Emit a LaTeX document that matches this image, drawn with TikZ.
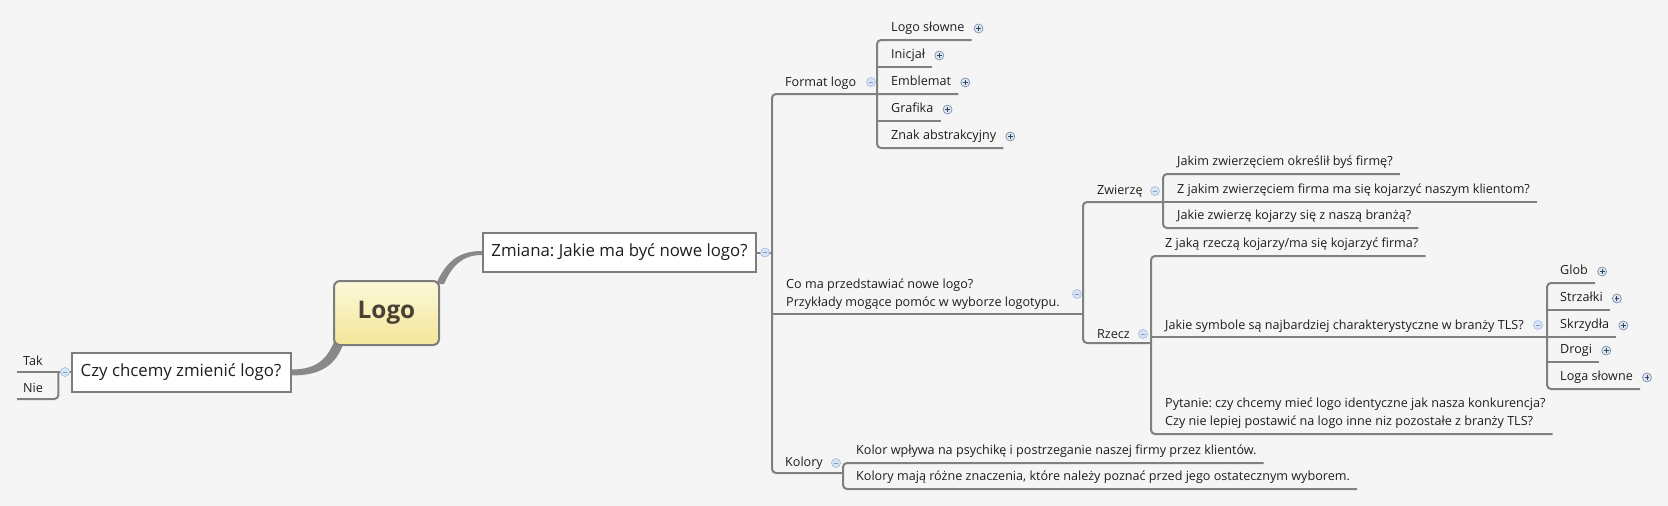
\documentclass[tikz,border=0pt]{standalone}
\usepackage{fontspec}
\setmainfont{Open Sans}
\usetikzlibrary{calc}
\definecolor{bg}{HTML}{F5F5F5}
\definecolor{ln}{HTML}{808080}
\definecolor{bx}{HTML}{7D7D7D}
\definecolor{txt}{HTML}{1E1E1E}
\definecolor{logotxt}{HTML}{4A4034}
\definecolor{ytop}{HTML}{FCF8D8}
\definecolor{ybot}{HTML}{F3E69A}
\definecolor{minfill}{HTML}{D8E4F4}
\definecolor{minline}{HTML}{A9BFE2}
\definecolor{minsign}{HTML}{7C9BCB}
\definecolor{plfill}{HTML}{DCE6F3}
\definecolor{plline}{HTML}{7E8FA8}
\definecolor{plsign}{HTML}{33445E}
\definecolor{curvec}{HTML}{898989}
\newcommand\tpfont{\fontsize{12.6}{18}\selectfont}
\newcommand\bxfont{\fontsize{16.8}{20}\selectfont}
\frenchspacing
\begin{document}
\begin{tikzpicture}[x=1pt,y=-1pt,
 conn/.style={draw=ln, line width=2pt, rounded corners=4pt},
 leaf/.style={anchor=south west, inner sep=0pt, text depth=8pt, font=\tpfont, text=txt},
 ttext/.style={anchor=base west, inner sep=0pt, font=\tpfont, text=txt},
 bigbox/.style={draw=bx, line width=2pt, fill=white, inner sep=0pt, minimum height=39pt, font=\bxfont, text=txt},
 colicon/.style={circle, inner sep=0pt, minimum size=9pt, fill=minfill, draw=minline, line width=0.7pt,
   path picture={\draw[minsign, line width=1pt] ([xshift=-2.4pt]path picture bounding box.center) -- ([xshift=2.4pt]path picture bounding box.center);}},
 expicon/.style={circle, inner sep=0pt, minimum size=9pt, fill=plfill, draw=plline, line width=0.7pt,
   path picture={\draw[plsign, line width=0.9pt] ([xshift=-2.4pt]path picture bounding box.center) -- ([xshift=2.4pt]path picture bounding box.center) ([yshift=-2.4pt]path picture bounding box.center) -- ([yshift=2.4pt]path picture bounding box.center);}},
]
\fill[bg] (0,0) rectangle (1668,506);
\useasboundingbox (0,0) rectangle (1668,506);

% central boxes
\node[bigbox, minimum width=219pt] (czy) at (181,372) {Czy chcemy zmienić logo?};
\node[bigbox, minimum width=273pt] (zmiana) at (619.5,252.5) {Zmiana: Jakie ma być nowe logo?};
\coordinate (logoBL) at (339,342);
\coordinate (logoTR) at (440,284);
% thick curves
\fill[curvec] ($(czy.east)+(0,-2.5)$) .. controls (318,369.5) and (327,358) .. ($(logoBL)+(-5,0)$) -- ($(logoBL)+(5,0)$) .. controls (336,366) and (320,375.5) .. ($(czy.east)+(0,3.5)$) -- cycle;
\fill[curvec] ($(logoTR)+(-4,0)$) .. controls (446,262) and (458,251) .. ($(zmiana.west)+(0,-1.5)$) -- ($(zmiana.west)+(0,2.5)$) .. controls (462,255) and (452,266) .. ($(logoTR)+(4,0)$) -- cycle;
\node[draw=bx, line width=2pt, rounded corners=6pt, top color=ytop, bottom color=ybot, minimum width=105pt, minimum height=64pt, inner sep=0pt, font=\fontsize{24.3}{28}\selectfont\bfseries, text=logotxt] (logo) at (386.5,313) {Logo};

% Tak / Nie
\node[leaf, text depth=6pt] (tak) at (17,372) {\hspace*{6pt}\makebox[35pt][l]{Tak}};
\node[leaf, text depth=6pt] (nie) at (17,399) {\hspace*{6pt}\makebox[35pt][l]{Nie}};
\draw[conn] (tak.south west) -- (czy.west);
\draw[conn] (nie.south west) -- (nie.south east) -- (tak.south east);
\node[colicon] (czyI) at (65,372) {};

% main vertical
\coordinate (mT) at (772,94);
\coordinate (mB) at (772,473);
\coordinate (kolB) at (843,473);
\node[ttext] (fmt) at (785,86) {Format logo};
\node[leaf] (c1) at (877,40) {\hspace*{14pt}Logo słowne\hspace*{7pt}};
\node[leaf] (c2) at (877,67) {\hspace*{14pt}Inicjał\hspace*{7pt}};
\node[leaf] (c3) at (877,94) {\hspace*{14pt}Emblemat\hspace*{7pt}};
\node[leaf] (c4) at (877,121) {\hspace*{14pt}Grafika\hspace*{7pt}};
\node[leaf] (c5) at (877,148) {\hspace*{14pt}Znak abstrakcyjny\hspace*{7pt}};
\draw[conn] (c1.south east) -- (c1.south west) -- (c5.south west) -- (c5.south east);
\draw[conn] (c2.south west) -- (c2.south east);
\draw[conn] (c4.south west) -- (c4.south east);
\draw[conn] (c3.south east) -- (c3.south west) -- (mT) -- (mB) -- (kolB);
\draw[conn] (zmiana.east) -- (zmiana.east -| mT);
\node[colicon] (zmI) at (765,252.5) {};
\node[colicon] (fmtI) at (871,82) {};
\foreach \n in {c1,c2,c3,c4,c5} \node[expicon] (\n-i) at ($(\n.south east)+(7pt,11.5pt)$) {};

% Co ma przedstawiac
\node[ttext] (coma) at (786,306) {\begin{tabular}[b]{@{}l@{}}Co ma przedstawiać nowe logo?\\Przykłady mogące pomóc w wyborze logotypu.\end{tabular}};
\coordinate (cmL) at (772,314);
\coordinate (cmB) at (1083,314);
\draw[conn] (cmL) -- (cmB);
\node[colicon] (comaI) at (1077,294) {};

% Zwierze
\node[ttext] (zw) at (1097,194) {Zwierzę};
\node[leaf] (z1) at (1163,174) {\hspace*{14pt}Jakim zwierzęciem określił byś firmę?\hspace*{7pt}};
\node[leaf] (z2) at (1163,202) {\hspace*{14pt}Z jakim zwierzęciem firma ma się kojarzyć naszym klientom?\hspace*{7pt}};
\node[leaf] (z3) at (1163,228) {\hspace*{14pt}Jakie zwierzę kojarzy się z naszą branżą?\hspace*{7pt}};
\draw[conn] (z1.south east) -- (z1.south west) -- (z3.south west) -- (z3.south east);
\draw[conn] (z2.south west) -- (z2.south east);
\node[colicon] (zwI) at (1155,191) {};

% Rzecz
\coordinate (rzL) at (1151,343);
\draw[conn] (z2.south west) -- (1083,202) -- (1083,343) -- (rzL);
\node[ttext] (rz) at (1097,338) {Rzecz};
\node[leaf] (r1) at (1151,256) {\hspace*{14pt}Z jaką rzeczą kojarzy/ma się kojarzyć firma?\hspace*{7pt}};
\node[ttext] (r2) at (1165,329) {Jakie symbole są najbardziej charakterystyczne w branży TLS?};
\node[leaf] (r3) at (1151,434) {\hspace*{14pt}\begin{tabular}[b]{@{}l@{}}Pytanie: czy chcemy mieć logo identyczne jak nasza konkurencja?\\Czy nie lepiej postawić na logo inne niz pozostałe z branży TLS?\end{tabular}\hspace*{7pt}};
\draw[conn] (r1.south east) -- (r1.south west) -- (r3.south west) -- (r3.south east);
\coordinate (r2L) at (1151,337);
\coordinate (sB) at (1547,337);
\draw[conn] (r2L) -- (sB);
\node[colicon] (rzI) at (1143,334) {};
\node[colicon] (r2I) at (1538,325) {};

% symbols
\node[leaf] (s1) at (1547,283) {\hspace*{13pt}Glob\hspace*{7pt}};
\node[leaf] (s2) at (1547,310) {\hspace*{13pt}Strzałki\hspace*{7pt}};
\node[leaf] (s3) at (1547,337) {\hspace*{13pt}Skrzydła\hspace*{7pt}};
\node[leaf] (s4) at (1547,362) {\hspace*{13pt}Drogi\hspace*{7pt}};
\node[leaf] (s5) at (1547,389) {\hspace*{13pt}Loga słowne\hspace*{7pt}};
\draw[conn] (s1.south east) -- (s1.south west) -- (s5.south west) -- (s5.south east);
\draw[conn] (s2.south west) -- (s2.south east);
\draw[conn] (s3.south west) -- (s3.south east);
\draw[conn] (s4.south west) -- (s4.south east);
\foreach \n in {s1,s2,s3,s4,s5} \node[expicon] (\n-i) at ($(\n.south east)+(7pt,11.5pt)$) {};

% Kolory
\node[ttext] (kol) at (785,466) {Kolory};
\node[leaf] (k1) at (843,463) {\hspace*{13pt}Kolor wpływa na psychikę i postrzeganie naszej firmy przez klientów.\hspace*{7pt}};
\node[leaf] (k2) at (843,489) {\hspace*{13pt}Kolory mają różne znaczenia, które należy poznać przed jego ostatecznym wyborem.\hspace*{7pt}};
\draw[conn] (k1.south east) -- (k1.south west) -- (k2.south west) -- (k2.south east);
\node[colicon] (kolI) at (836,463) {};
\end{tikzpicture}
\end{document}
